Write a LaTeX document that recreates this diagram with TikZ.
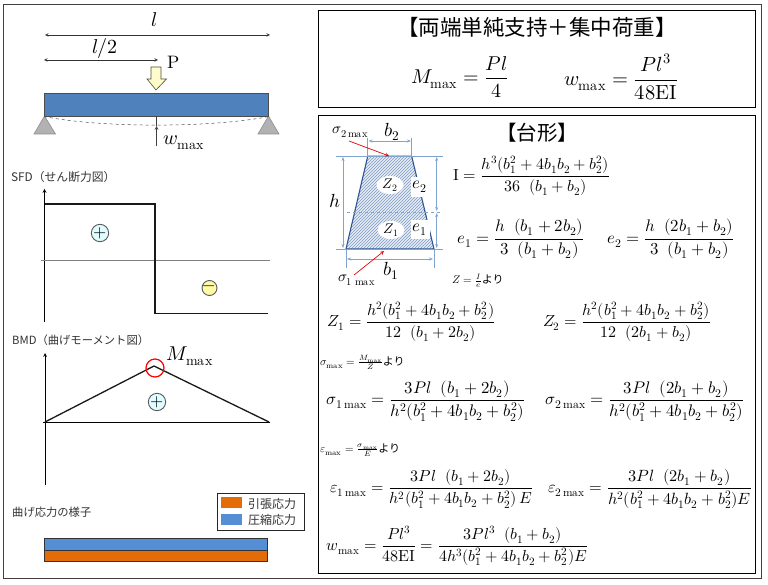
\documentclass[tikz,border=0pt]{standalone}
\usepackage{amsmath}
\usepackage{unicode-math}
\setmainfont{Noto Sans CJK JP}
\setmathfont{Latin Modern Math}
\usetikzlibrary{patterns,arrows.meta,shapes.geometric}
\newcommand{\mx}{\symup{max}}
\newcommand{\dnm}{h^2(b_1^2+4b_1b_2+b_2^2)}
\definecolor{beamblue}{HTML}{4F81BD}
\definecolor{dimblue}{HTML}{7FA5CE}
\definecolor{edgeblue}{HTML}{2F5597}
\definecolor{compblue}{HTML}{558ED5}
\definecolor{tensorange}{HTML}{E36C09}
\tikzset{
  >=stealth,
  framebox/.style={draw=black!75, line width=1pt},
  eqn/.style={inner sep=0pt, font=\fontsize{16}{19}\selectfont},
  eqnwide/.style={inner sep=0pt, font=\fontsize{16.8}{19}\selectfont},
  eqnbig/.style={inner sep=0pt, font=\fontsize{20}{24}\selectfont},
  eqnsmall/.style={inner sep=0pt, anchor=west, font=\fontsize{11}{13}\selectfont},
  jplabel/.style={inner sep=0pt, anchor=west, font=\fontsize{11.3}{13}\selectfont, text=black!80},
  signmark/.style={circle, draw=black!65, fill=blue!10!cyan!12, line width=0.9pt, inner sep=0pt, minimum size=15pt, font=\fontsize{17}{17}\selectfont},
  axisline/.style={->, line width=0.7pt},
  forceline/.style={line width=1.3pt, black!90},
  dimline/.style={<->, line width=0.6pt, black!80},
  sectiondim/.style={{Stealth[length=4pt]}-{Stealth[length=4pt]}, line width=0.8pt, dimblue},
  sectionext/.style={line width=0.8pt, dimblue},
  redarrow/.style={->, line width=0.7pt, red!90!black},
  whitespot/.style={fill=white, inner sep=0pt}
}
\begin{document}
\begin{tikzpicture}[x=1pt, y=-1pt]
  \useasboundingbox (0,0) rectangle (768,585);
  % frames
  \draw[framebox] (3.5,5) rectangle (761.5,578.5);
  \draw[framebox, black] (318.5,10.5) rectangle (755,108);
  \draw[framebox, black] (318.5,116) rectangle (755,573);

  % beam
  \node (topl) at (154,20) [eqnbig] {$l$};
  \node (halfl) at (105,49) [eqnbig] {$l/2$};
  \coordinate (la) at (45,35);
  \coordinate (lb) at (270,35);
  \coordinate (ha) at (44,60);
  \coordinate (hb) at (158,60);
  \draw[dimline] (la) -- (lb);
  \draw[dimline] (ha) -- (hb);
  \node (loadp) at (174,62) [eqn, font=\fontsize{18}{20}\selectfont] {$\symup{P}$};
  \draw[draw=black!55!olive, fill=yellow!20, line width=0.6pt]
    (151,67) -- (161,67) -- (161,79) -- (166.5,79) -- (156,90) -- (147,79) -- (151,79) -- cycle;
  \draw[fill=gray!60, draw=black!45, line width=0.6pt] (44.5,116) -- (55.5,134) -- (34,134) -- cycle;
  \draw[fill=gray!60, draw=black!45, line width=0.6pt] (268.5,116) -- (279,134) -- (258,134) -- cycle;
  \node (beam) at (156.5,104.5) [draw=black!70, fill=beamblue, line width=0.9pt, minimum width=224pt, minimum height=23pt, inner sep=0pt] {};
  \draw[dashed, line width=0.5pt, black!70] (beam.south west) .. controls (100,128) and (212,128) .. (beam.south east);
  \coordinate (wa) at (156.5,146);
  \coordinate (wb) at (156.5,126);
  \draw[->, line width=0.7pt, black!75] (wa) -- (wb);
  \draw[line width=0.7pt, black!75] (wb) -- (156.5,116);
  \node (wlabel) at (184,143) [eqnbig] {$w_{\mx}$};

  % SFD
  \node (sfdtitle) at (11,177) [jplabel, font=\fontsize{11.8}{13}\selectfont] {SFD（せん断力図）};
  \draw[axisline] (44.5,322) -- (44.5,189);
  \draw[line width=0.8pt, black!50] (41,260) -- (270,260);
  \draw[forceline] (44.5,204) -- (155,204) -- (155,313.7) -- (268,313.7);
  \node (plusa) at (100,233) [signmark] {$+$};
  \node (minusa) at (209.5,288) [signmark, fill=yellow!35] {$-$};

  % BMD
  \node (bmdtitle) at (12,340) [jplabel] {BMD（曲げモーメント図）};
  \draw[axisline] (45,485) -- (45,353);
  \draw[line width=0.6pt] (43,422) -- (270,422);
  \draw[forceline] (45,422) -- (154,366) -- (269,422);
  \node (peak) at (155,368) [circle, draw=red, line width=1.2pt, minimum size=18pt, inner sep=0pt] {};
  \node (plusb) at (157,402) [signmark] {$+$};
  \node (mlabel) at (190,356) [eqnbig] {$M_{\mx}$};

  % stress bar
  \node (stresstitle) at (12,512) [jplabel] {曲げ応力の様子};
  \draw[framebox, black!80, fill=compblue] (44,538) rectangle (267,550);
  \draw[framebox, black!80, fill=tensorange] (44,550) rectangle (267,561);
  \node (legend) at (260.5,511.5) [draw=black!85, fill=white, line width=0.8pt, minimum width=87pt, minimum height=37pt, inner sep=0pt] {};
  \fill[tensorange] (220.5,497) rectangle (242,508);
  \fill[compblue] (220.5,514) rectangle (242,525);
  \node (tens) at (248,504) [jplabel, font=\fontsize{12}{14}\selectfont] {引張応力};
  \node (comp) at (248,519.5) [jplabel, font=\fontsize{12}{14}\selectfont] {圧縮応力};

  % top box
  \node (title) at (537,27) [inner sep=0pt, font=\fontsize{21.5}{24}\selectfont] {【両端単純支持＋集中荷重】};
  \node (mform) at (460,77) [eqnbig] {$M_{\mx}=\dfrac{Pl}{4}$};
  \node (wform) at (621,77) [eqnbig, font=\fontsize{20.5}{24}\selectfont] {$w_{\mx}=\dfrac{Pl^3}{48\symup{EI}}$};

  % section
  \node (sectitle) at (537,133) [inner sep=0pt, font=\fontsize{20.5}{24}\selectfont] {【台形】};
  \coordinate (tl) at (367.7,156.3);
  \coordinate (tr) at (411.7,156.3);
  \coordinate (br) at (434,249);
  \coordinate (bl) at (346,249);
  \fill[dimblue!20] (tl) -- (tr) -- (br) -- (bl) -- cycle;
  \fill[pattern=north east lines, pattern color=edgeblue!60] (tl) -- (tr) -- (br) -- (bl) -- cycle;
  \draw[line width=1.1pt, edgeblue] (tl) -- (tr) -- (br) -- (bl) -- cycle;
  \draw[sectionext] (336,156.3) -- (443,156.3);
  \draw[sectionext] (336,249) -- (443,249);
  \draw[sectionext, dashed] (347,212) -- (443,212);
  \draw[sectionext] (tl) -- (367.7,138);
  \draw[sectionext] (tr) -- (411.7,138);
  \draw[sectionext] (bl) -- (346,268);
  \draw[sectionext] (br) -- (434,268);
  \draw[sectiondim] (368.5,141) -- (411,141);
  \draw[sectiondim] (347,259) -- (433,259);
  \draw[sectiondim] (343,157) -- (343,248);
  \draw[sectiondim] (436.7,157) -- (436.7,211);
  \draw[sectiondim] (436.7,213) -- (436.7,248);
  \node (zb) at (390,185) [ellipse, whitespot, minimum width=27pt, minimum height=18pt] {};
  \node (zc) at (391,230) [ellipse, whitespot, minimum width=27pt, minimum height=18pt] {};
  \node (eb) at (420,187) [whitespot, minimum width=19pt, minimum height=20pt] {};
  \node (ec) at (420,230) [whitespot, minimum width=19pt, minimum height=19pt] {};
  \node (zbt) at (zb) [eqn, font=\fontsize{14}{17}\selectfont] {$Z_2$};
  \node (zct) at (zc) [eqn, font=\fontsize{14}{17}\selectfont] {$Z_1$};
  \node (ebt) at (eb) [eqn, font=\fontsize{17}{18}\selectfont] {$e_2$};
  \node (ect) at (ec) [eqn, font=\fontsize{17}{18}\selectfont] {$e_1$};
  \node (btwo) at (392,132) [eqn, font=\fontsize{19}{21}\selectfont] {$b_2$};
  \node (bone) at (391,271) [eqn, font=\fontsize{19}{21}\selectfont] {$b_1$};
  \node (hlabel) at (335,201) [eqn, font=\fontsize{19}{21}\selectfont] {$h$};
  \node (stwo) at (350.5,132) [eqn, font=\fontsize{15}{17}\selectfont] {$\sigma_{2\,\mx}$};
  \node (sone) at (357,280) [eqn, font=\fontsize{15}{17}\selectfont] {$\sigma_{1\;\mx}$};
  \coordinate (sa) at (349,141);
  \coordinate (sb) at (389,156);
  \coordinate (sc) at (354,275);
  \coordinate (sd) at (384,251);
  \draw[redarrow] (sa) -- (sb);
  \draw[redarrow] (sc) -- (sd);

  % formulas
  \node (iform) at (532,176) [eqn] {$\symup{I}=\dfrac{h^3(b_1^2+4b_1b_2+b_2^2)}{36\;\;(b_1+b_2)}$};
  \node (eone) at (521,239) [eqnwide] {$e_1=\dfrac{h\;\;(b_1+2b_2)}{3\;\;(b_1+b_2)}$};
  \node (etwo) at (671,239) [eqnwide] {$e_2=\dfrac{h\;\;(2b_1+b_2)}{3\;\;(b_1+b_2)}$};
  \node (zform) at (452,281) [eqnsmall] {$Z=\frac{I}{e}$より};
  \node (zone) at (411.5,322) [eqn] {$Z_1=\dfrac{h^2(b_1^2+4b_1b_2+b_2^2)}{12\;\;(b_1+2b_2)}$};
  \node (ztwo) at (627,322) [eqn] {$Z_2=\dfrac{h^2(b_1^2+4b_1b_2+b_2^2)}{12\;\;(2b_1+b_2)}$};
  \node (smax) at (320,362) [eqnsmall] {$\sigma_{\mx}=\frac{M_{\mx}}{Z}$より};
  \node (sonef) at (426,401) [eqnwide] {$\sigma_{1\,\mx}=\dfrac{3Pl\;\;(b_1+2b_2)}{\dnm}$};
  \node (stwof) at (645,401) [eqnwide] {$\sigma_{2\,\mx}=\dfrac{3Pl\;\;(2b_1+b_2)}{\dnm}$};
  \node (emax) at (320,450) [eqnsmall] {$\varepsilon_{\mx}=\frac{\sigma_{\mx}}{E}$より};
  \node (eonef) at (432,489) [eqn] {$\varepsilon_{1\,\mx}=\dfrac{3Pl\;\;(b_1+2b_2)}{\dnm\,E}$};
  \node (etwof) at (650,489) [eqn, font=\fontsize{16.3}{19}\selectfont] {$\varepsilon_{2\,\mx}=\dfrac{3Pl\;\;(2b_1+b_2)}{\dnm E}$};
  \node (wf) at (457.5,546) [eqn] {$w_{\mx}=\dfrac{Pl^3}{48\symup{EI}}=\dfrac{3Pl^3\;\;(b_1+b_2)}{4h^3(b_1^2+4b_1b_2+b_2^2)E}$};
\end{tikzpicture}
\end{document}
